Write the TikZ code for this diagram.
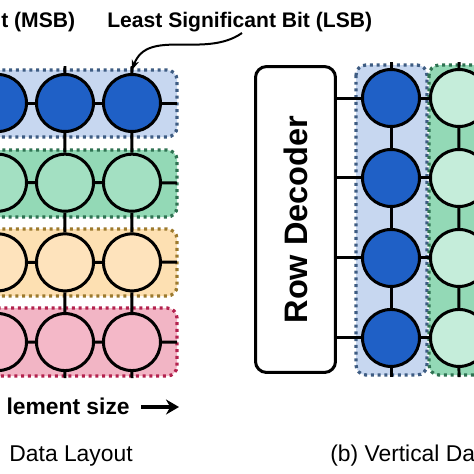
\documentclass[tikz,border=0pt]{standalone}
\usepackage{fontspec}
\setmainfont{Liberation Sans}
\usetikzlibrary{arrows.meta, positioning}

\definecolor{blueband}{HTML}{C7D7F0}
\definecolor{bluedot}{HTML}{3E5C82}
\definecolor{greenband}{HTML}{93D9B6}
\definecolor{greendot}{HTML}{2F7252}
\definecolor{orangeband}{HTML}{FDE0B2}
\definecolor{orangedot}{HTML}{9C7A2E}
\definecolor{pinkband}{HTML}{F2B5C5}
\definecolor{pinkdot}{HTML}{B3224E}
\definecolor{bitblue}{HTML}{1F60C6}
\definecolor{bitgreen}{HTML}{A3E0C2}
\definecolor{bitlightgreen}{HTML}{C5EDDA}
\definecolor{bitorange}{HTML}{FEE3BC}
\definecolor{bitpink}{HTML}{F4B8C8}

\begin{document}
\begin{tikzpicture}[
    x=0.02cm, y=-0.02cm,
    node distance=0.394cm and 0.14cm,
    bit/.style={draw, circle, line width=0.06cm, minimum size=1.14cm, inner sep=0pt},
    band/.style={rounded corners=0.2cm, line width=0.065cm, dash pattern=on 0.06cm off 0.075cm},
    wire/.style={line width=0.06cm},
    lbl/.style={font=\bfseries\fontsize{12}{14}\selectfont, inner sep=0pt},
    caption/.style={font=\fontsize{13}{15}\selectfont, inner sep=0pt}
]
\useasboundingbox (0,0) rectangle (474,474);

\path[band, fill=blueband, draw=bluedot] (-40,70) rectangle (177,137);
\path[band, fill=greenband, draw=greendot] (-40,150) rectangle (177,217);
\path[band, fill=orangeband, draw=orangedot] (-40,229) rectangle (177,296);
\path[band, fill=pinkband, draw=pinkdot] (-40,308) rectangle (177,376);

\node[bit, fill=bitblue] (a1) at (-2,103) {};
\node[bit, fill=bitblue, right=of a1] (a2) {};
\node[bit, fill=bitblue, right=of a2] (a3) {};
\node[bit, fill=bitgreen, below=of a1] (b1) {};
\node[bit, fill=bitgreen, right=of b1] (b2) {};
\node[bit, fill=bitgreen, right=of b2] (b3) {};
\node[bit, fill=bitorange, below=of b1] (c1) {};
\node[bit, fill=bitorange, right=of c1] (c2) {};
\node[bit, fill=bitorange, right=of c2] (c3) {};
\node[bit, fill=bitpink, below=of c1] (d1) {};
\node[bit, fill=bitpink, right=of d1] (d2) {};
\node[bit, fill=bitpink, right=of d2] (d3) {};

\coordinate (aend) at (177,103);
\coordinate (bend) at (177,183);
\coordinate (cend) at (177,262);
\coordinate (dend) at (177,342);
\coordinate (top1) at (-2,66);
\coordinate (top2) at (65,66);
\coordinate (top3) at (132,66);
\coordinate (bot1) at (-2,378);
\coordinate (bot2) at (65,378);
\coordinate (bot3) at (132,378);

\draw[wire] (a1) -- (a2) -- (a3) -- (aend);
\draw[wire] (b1) -- (b2) -- (b3) -- (bend);
\draw[wire] (c1) -- (c2) -- (c3) -- (cend);
\draw[wire] (d1) -- (d2) -- (d3) -- (dend);
\draw[wire] (top1) -- (a1) -- (b1) -- (c1) -- (d1) -- (bot1);
\draw[wire] (top2) -- (a2) -- (b2) -- (c2) -- (d2) -- (bot2);
\draw[wire] (top3) -- (a3) -- (b3) -- (c3) -- (d3) -- (bot3);

\node[lbl, anchor=base west] (msb) at (1,27) {t (MSB)};
\node[lbl, anchor=base west] (lsb) at (107,27) {Least Significant Bit (LSB)};
\coordinate (lsbtail) at (242,33);
\coordinate (lsbhead) at (132,70);
\draw[line width=0.04cm, -{Stealth[length=0.2cm]}] (lsbtail) to[out=215, in=70] (lsbhead);

\node[lbl, font=\bfseries\fontsize{13}{15}\selectfont, anchor=base east] (size) at (130,414) {lement size};
\coordinate (growtail) at (141,407);
\coordinate (growhead) at (179,407);
\draw[wire, line width=0.07cm, -{Stealth[length=0.26cm, width=0.3cm]}] (growtail) -- (growhead);

\node[caption, anchor=base east] (capa) at (133,461) {Data Layout};

\path[band, fill=blueband, draw=bluedot] (356,65) rectangle (427,375);
\path[band, fill=greenband, draw=greendot] (429,65) rectangle (530,375);

\node[draw, rotate=90, line width=0.06cm, rounded corners=0.22cm, minimum width=6.12cm, minimum height=1.6cm,
      font=\bfseries\fontsize{18.5}{20}\selectfont] (dec) at (295.5,219.5) {Row Decoder};

\node[bit, fill=bitblue] (p1) at (391,98) {};
\node[bit, fill=bitblue, below=0.4cm of p1] (p2) {};
\node[bit, fill=bitblue, below=0.4cm of p2] (p3) {};
\node[bit, fill=bitblue, below=0.4cm of p3] (p4) {};
\node[bit, fill=bitlightgreen, right=0.16cm of p1] (q1) {};
\node[bit, fill=bitlightgreen, right=0.16cm of p2] (q2) {};
\node[bit, fill=bitlightgreen, right=0.16cm of p3] (q3) {};
\node[bit, fill=bitlightgreen, right=0.16cm of p4] (q4) {};

\coordinate (ptop) at (391,62);
\coordinate (qtop) at (459,62);
\coordinate (pbot) at (391,377);
\coordinate (qbot) at (459,377);

\draw[wire] (p1 -| dec.south) -- (p1) -- (q1);
\draw[wire] (p2 -| dec.south) -- (p2) -- (q2);
\draw[wire] (p3 -| dec.south) -- (p3) -- (q3);
\draw[wire] (p4 -| dec.south) -- (p4) -- (q4);
\draw[wire] (ptop) -- (p1) -- (p2) -- (p3) -- (p4) -- (pbot);
\draw[wire] (qtop) -- (q1) -- (q2) -- (q3) -- (q4) -- (qbot);

\node[caption, anchor=base west] (capb) at (330,461) {(b) Vertical Da};

\end{tikzpicture}
\end{document}
